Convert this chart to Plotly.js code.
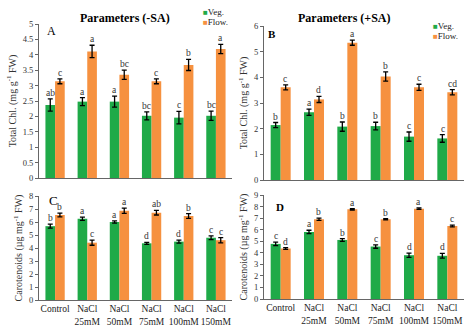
<!DOCTYPE html>
<html>
<head>
<meta charset="utf-8">
<script src="https://cdn.plot.ly/plotly-3.0.1.min.js"></script>
<style>html,body{margin:0;padding:0;background:#fff;}#chart{width:474px;height:329px;}</style>
</head>
<body>
<div id="chart"></div>
<script>
const categories = ['Control','NaCl<br>25mM','NaCl<br>50mM','NaCl<br>75mM','NaCl<br>100mM','NaCl<br>150mM'];
const seriesNames = ['Veg.', 'Flow.'];

// Panel A: Total Chl (-SA)
const chlMinusVeg = [2.37, 2.48, 2.48, 2.02, 1.96, 2.02];
const chlMinusVegErr = [0.2, 0.13, 0.18, 0.13, 0.2, 0.15];
const chlMinusFlow = [3.14, 4.11, 3.35, 3.14, 3.67, 4.19];
const chlMinusFlowErr = [0.08, 0.2, 0.15, 0.08, 0.18, 0.15];
const chlMinusVegLetters = ['ab','a','a','bc','c','bc'];
const chlMinusFlowLetters = ['c','a','bc','c','b','a'];

// Panel B: Total Chl (+SA)
const chlPlusVeg = [2.14, 2.64, 2.08, 2.1, 1.69, 1.62];
const chlPlusVegErr = [0.1, 0.12, 0.18, 0.15, 0.18, 0.15];
const chlPlusFlow = [3.61, 3.14, 5.35, 4.03, 3.61, 3.42];
const chlPlusFlowErr = [0.1, 0.12, 0.1, 0.18, 0.12, 0.1];
const chlPlusVegLetters = ['b','a','b','b','c','c'];
const chlPlusFlowLetters = ['c','d','a','b','c','cd'];

// Panel C: Carotenoids (-SA)
const carMinusVeg = [5.68, 6.25, 6.0, 4.36, 4.49, 4.79];
const carMinusVegErr = [0.15, 0.12, 0.08, 0.08, 0.12, 0.15];
const carMinusFlow = [6.54, 4.41, 6.87, 6.72, 6.46, 4.6];
const carMinusFlowErr = [0.15, 0.2, 0.2, 0.18, 0.18, 0.2];
const carMinusVegLetters = ['b','a','a','d','d','c'];
const carMinusFlowLetters = ['b','c','a','ab','b','c'];

// Panel D: Carotenoids (+SA)
const carPlusVeg = [4.77, 5.8, 5.11, 4.54, 3.79, 3.74];
const carPlusVegErr = [0.15, 0.15, 0.12, 0.15, 0.18, 0.2];
const carPlusFlow = [4.37, 6.9, 7.76, 6.9, 7.82, 6.32];
const carPlusFlowErr = [0.08, 0.1, 0.06, 0.06, 0.06, 0.08];
const carPlusVegLetters = ['c','a','b','c','d','d'];
const carPlusFlowLetters = ['d','b','a','b','a','c'];

const GREEN = '#1faa48';
const ORANGE = '#f6913f';
const SERIF = 'Liberation Serif, Times New Roman, serif';

const panels = [
  {xa:'x', ya:'y', veg:chlMinusVeg, vegErr:chlMinusVegErr, flow:chlMinusFlow, flowErr:chlMinusFlowErr, vl:chlMinusVegLetters, fl:chlMinusFlowLetters},
  {xa:'x2', ya:'y2', veg:chlPlusVeg, vegErr:chlPlusVegErr, flow:chlPlusFlow, flowErr:chlPlusFlowErr, vl:chlPlusVegLetters, fl:chlPlusFlowLetters},
  {xa:'x3', ya:'y3', veg:carMinusVeg, vegErr:carMinusVegErr, flow:carMinusFlow, flowErr:carMinusFlowErr, vl:carMinusVegLetters, fl:carMinusFlowLetters},
  {xa:'x4', ya:'y4', veg:carPlusVeg, vegErr:carPlusVegErr, flow:carPlusFlow, flowErr:carPlusFlowErr, vl:carPlusVegLetters, fl:carPlusFlowLetters}
];

const data = [];
const annotations = [];
const errStyle = {type:'data', visible:true, color:'#000', thickness:1.3, width:2.5};
const letterFont = {family:SERIF, size:9.5, color:'#333'};
panels.forEach(p => {
  data.push({type:'bar', name:seriesNames[0], x:categories, y:p.veg, xaxis:p.xa, yaxis:p.ya,
    marker:{color:GREEN}, error_y:Object.assign({array:p.vegErr}, errStyle),
    showlegend:false, offsetgroup:'veg'});
  data.push({type:'bar', name:seriesNames[1], x:categories, y:p.flow, xaxis:p.xa, yaxis:p.ya,
    marker:{color:ORANGE}, error_y:Object.assign({array:p.flowErr}, errStyle),
    showlegend:false, offsetgroup:'flow'});
  categories.forEach((c,i) => {
    annotations.push({xref:p.xa, yref:p.ya, x:c, y:p.veg[i]+p.vegErr[i], xshift:-4.8, yshift:-1,
      text:p.vl[i], showarrow:false, xanchor:'center', yanchor:'bottom', font:letterFont});
    annotations.push({xref:p.xa, yref:p.ya, x:c, y:p.flow[i]+p.flowErr[i], xshift:4.8, yshift:-1,
      text:p.fl[i], showarrow:false, xanchor:'center', yanchor:'bottom', font:letterFont});
  });
});

// Legends (drawn as legend-like text keys)
const legFont = {family:SERIF, size:9, color:'#222'};
function legendKey(x, y, color, name){
  annotations.push({xref:'paper', yref:'paper', x:x/474, y:1-y/329, xanchor:'left', yanchor:'middle',
    text:'<span style="color:'+color+';font-size:8px">■</span>'+name, showarrow:false, font:legFont});
}
legendKey(201, 12, GREEN, seriesNames[0]);
legendKey(201, 22, ORANGE, seriesNames[1]);
legendKey(431, 26, GREEN, seriesNames[0]);
legendKey(431, 36, ORANGE, seriesNames[1]);

function label(x, y, text, size){
  annotations.push({xref:'paper', yref:'paper', x:x/474, y:1-y/329, xanchor:'center', yanchor:'middle',
    text:text, showarrow:false, font:{family:SERIF, size:size, color:'#000'}});
}
label(125, 18, '<b>Parameters (-SA)</b>', 12);
label(344, 18, '<b>Parameters (+SA)</b>', 12);
label(51, 31, 'A', 12);
label(272, 34, '<b>B</b>', 11);
label(53, 200, 'C', 13);
label(280, 207, '<b>D</b>', 11);

const tickFont = {family:SERIF, size:8.5, color:'#333'};
const titleFont = {family:SERIF, size:10, color:'#333'};
const lineColor = '#666';
function xax(domain, anchor, labels){
  return {domain:domain, anchor:anchor, showline:true, linecolor:lineColor, linewidth:1, ticks:'',
    showticklabels:labels, tickangle:0, tickfont:{family:SERIF, size:9.5, color:'#222'}, showgrid:false, zeroline:false, fixedrange:true};
}
function yax(domain, anchor, range, dtick, title){
  return {domain:domain, anchor:anchor, range:range, dtick:dtick, showline:true, linecolor:lineColor, linewidth:1,
    ticks:'outside', ticklen:3, tickcolor:lineColor, tickfont:tickFont, showgrid:false, zeroline:false,
    title:{text:title, font:titleFont, standoff:4}};
}

const layout = {
  width:474, height:329, margin:{l:0, r:0, t:0, b:0}, paper_bgcolor:'#fff', plot_bgcolor:'#fff',
  barmode:'group', bargap:0.4, bargroupgap:0,
  font:{family:SERIF},
  showlegend:false,
  xaxis: xax([39/474, 232/474], 'y', false),
  yaxis: yax([1-178/329, 1-24/329], 'x', [0,5], 0.5, 'Total Chl. (mg g<sup>-1</sup> FW)'),
  xaxis2: xax([264/474, 464/474], 'y2', false),
  yaxis2: yax([1-180/329, 1-26/329], 'x2', [0,6], 1, 'Total Chl. (mg g<sup>-1</sup> FW)'),
  xaxis3: xax([39/474, 232/474], 'y3', true),
  yaxis3: yax([1-300/329, 1-196/329], 'x3', [0,8], 1, 'Carotenoids (µg mg<sup>-1</sup> FW)'),
  xaxis4: xax([264/474, 464/474], 'y4', true),
  yaxis4: yax([1-299/329, 1-195/329], 'x4', [0,9], 1, 'Carotenoids (µg mg<sup>-1</sup> FW)'),
  annotations: annotations
};

Plotly.newPlot('chart', data, layout, {displayModeBar:false, staticPlot:true});
</script>
</body>
</html>
